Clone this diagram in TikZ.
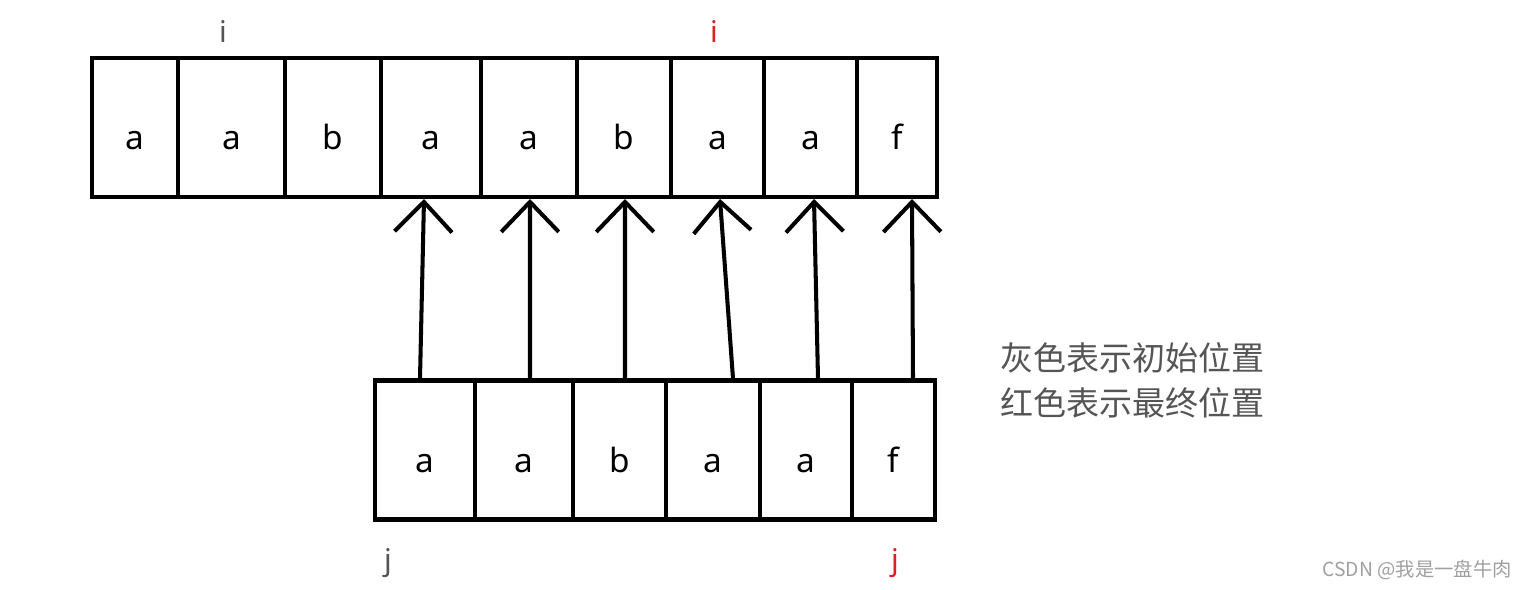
\documentclass[tikz,border=0pt]{standalone}
\usepackage{fontspec}
\usepackage[]{xcolor}
\setmainfont{Noto Sans}
\newfontfamily\cjk{Noto Sans CJK SC}
\usetikzlibrary{arrows.meta}
\definecolor{initgray}{HTML}{555555}
\definecolor{finalred}{HTML}{E02020}
\definecolor{markgray}{HTML}{A0A0A0}
\tikzset{
  cell/.style = {draw, line width = 2.3pt, minimum height = 2.78cm, inner sep = 0pt,
    text height = 0.9cm, text depth = 0pt, font = \fontsize{19}{19}\selectfont},
  ptr/.style = {font = \fontsize{17}{17}\selectfont},
  arr/.style = {line width = 2.3pt, -{Straight Barb[length = 0.6cm, width = 1.15cm]}}
}
\begin{document}
\begin{tikzpicture}[x = 0.02cm, y = -0.02cm]
\useasboundingbox (0,0) rectangle (1528,590);
% upper string
\foreach \l/\r/\c [count = \k] in {92/178/a, 178/285/a, 285/381/b, 381/481/a, 481/577/a,
    577/671/b, 671/764/a, 764/857/a, 857/937/f}
  \node [cell, minimum width = {(\r-\l)*0.02cm}] (t\k) at ({(\l+\r)/2}, 127.5) {\c};
% lower string
\foreach \l/\r/\c [count = \k] in {375/475/a, 475/573/a, 573/666/b, 666/760/a, 760/852/a,
    852/935/f}
  \node [cell, minimum width = {(\r-\l)*0.02cm}] (b\k) at ({(\l+\r)/2}, 450) {\c};
\foreach \s/\e/\a/\b in {1/4/-0.1/-0.14, 2/5/0.12/0.02, 3/6/0.11/0.02, 4/7/0.4/0.05,
    5/8/0.24/0.07, 6/9/0.39/0.3}
  \draw [arr] ([xshift = \a cm]b\s.north) -- ([xshift = \b cm]t\e.south);
\node [ptr, color = initgray] (i0) at (223, 32) {i};
\node [ptr, color = finalred] (i1) at (714, 32) {i};
\node [ptr, color = initgray] (j0) at (388, 563) {j};
\node [ptr, color = finalred] (j1) at (895, 563) {j};
\node [anchor = west, align = left, color = initgray, inner sep = 0pt,
  font = \cjk\fontsize{18.8}{25.6}\selectfont] (note) at (1000, 380)
  {灰色表示初始位置\\红色表示最终位置};
\node [anchor = east, color = markgray, inner sep = 0pt,
  font = \cjk\fontsize{11}{11}\selectfont] (mark) at (1512, 570) {CSDN @我是一盘牛肉};
\end{tikzpicture}
\end{document}
